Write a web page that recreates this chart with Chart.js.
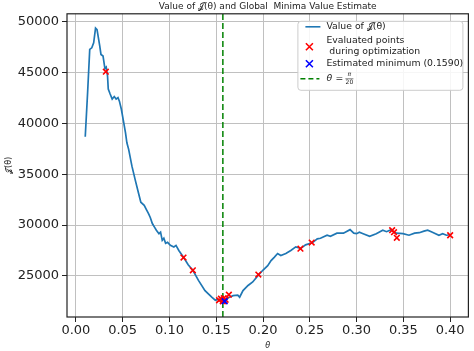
<!DOCTYPE html>
<html>
<head>
<meta charset="utf-8">
<script src="https://cdn.jsdelivr.net/npm/chart.js@4.4.1/dist/chart.umd.min.js"></script>
<style>
  body { margin: 0; background: #fff; }
  #wrap { width: 474px; height: 351px; }
</style>
</head>
<body>
<div id="wrap"><canvas id="chart" width="474" height="351"></canvas></div>
<script>
// J(theta) curve
const thetaVals = [
  0.010, 0.0125, 0.0148, 0.017, 0.019, 0.021, 0.0226, 0.0254, 0.0268, 0.029,
  0.031, 0.0324, 0.0338, 0.0346, 0.0366, 0.0388, 0.041, 0.043, 0.045, 0.0465,
  0.0486, 0.0507, 0.053, 0.0545, 0.0564, 0.0599, 0.0634, 0.0669, 0.0694, 0.073,
  0.0755, 0.0775, 0.0795, 0.0817, 0.084, 0.086, 0.0888, 0.0905, 0.0923, 0.094,
  0.0959, 0.098, 0.101, 0.1047, 0.107, 0.110, 0.1152, 0.120, 0.125, 0.131,
  0.138, 0.1452, 0.149, 0.152, 0.1557, 0.159, 0.163, 0.168, 0.173, 0.175,
  0.1786, 0.184, 0.189, 0.1952, 0.1998, 0.205, 0.2086, 0.2122, 0.2156, 0.219,
  0.2244, 0.2297, 0.235, 0.2403, 0.2455, 0.2526, 0.258, 0.2614, 0.2685, 0.272,
  0.279, 0.286, 0.293, 0.297, 0.300, 0.303, 0.307, 0.314, 0.321, 0.328,
  0.332, 0.3372, 0.339, 0.3425, 0.3496, 0.356, 0.362, 0.367, 0.372, 0.376,
  0.381, 0.388, 0.392, 0.396, 0.400
];
const jVals = [
  38700, 43000, 47300, 47450, 47950, 49400, 49250, 47700, 46800, 46650,
  45400, 45550, 44700, 43400, 42900, 42400, 42650, 42400, 42550, 42200,
  41400, 40300, 39100, 38100, 37450, 35800, 34450, 33150, 32250, 31950,
  31500, 31150, 30750, 30150, 29800, 29500, 29150, 29300, 28500, 28700,
  28200, 28300, 28000, 27850, 28000, 27500, 26800, 26100, 25550, 24550,
  23550, 22900, 22600, 22700, 22500, 22450, 22850, 23050, 23100, 22900,
  23550, 24050, 24400, 25100, 25550, 26000, 26500, 26850, 27200, 27000,
  27200, 27500, 27850, 27700, 28050, 28250, 28650, 28700, 29000, 28900,
  29200, 29200, 29550, 29200, 29150, 29300, 29150, 28900, 29150, 29500,
  29350, 29550, 29350, 29200, 29150, 29000, 29200, 29250, 29400, 29500,
  29300, 29000, 29150, 29000, 29050
];

// points evaluated by the optimizer
const evalTheta = [0.032, 0.115, 0.125, 0.153, 0.155, 0.157, 0.158, 0.160, 0.1635, 0.195, 0.240, 0.252, 0.338, 0.340, 0.343, 0.400];
const evalJ     = [45100, 26800, 25550, 22600, 22750, 22500, 22800, 22650, 23150, 25130, 27680, 28280, 29500, 29300, 28750, 29000];

const minTheta = [0.159];
const minJ = [22500];

const refTheta = Math.PI / 20;

const xTicks = [0.00, 0.05, 0.10, 0.15, 0.20, 0.25, 0.30, 0.35, 0.40];
const yTicks = [25000, 30000, 35000, 40000, 45000, 50000];
const xRange = [-0.0095, 0.4195];
const yRange = [20950, 50800];

const FONT = "'DejaVu Sans', sans-serif";
const J = '\u{1D4A5}';

function pairs(xs, ys) {
  return xs.map((x, i) => ({ x: x, y: ys[i] }));
}

function drawX(ctx, x, y, r, color) {
  ctx.save();
  ctx.strokeStyle = color;
  ctx.lineWidth = 1.6;
  ctx.beginPath();
  ctx.moveTo(x - r, y - r); ctx.lineTo(x + r, y + r);
  ctx.moveTo(x - r, y + r); ctx.lineTo(x + r, y - r);
  ctx.stroke();
  ctx.restore();
}

const framePlugin = {
  id: 'frame',
  afterDraw(chart) {
    const ctx = chart.ctx, a = chart.chartArea;
    ctx.save();
    ctx.strokeStyle = '#222';
    ctx.lineWidth = 1.2;
    ctx.strokeRect(a.left, a.top, a.right - a.left, a.bottom - a.top);
    ctx.restore();
  }
};

const legendPlugin = {
  id: 'boxLegend',
  afterDraw(chart) {
    const ctx = chart.ctx, a = chart.chartArea;
    const x0 = a.right - 171, y0 = a.top + 7, w = 165, h = 69;
    ctx.save();
    ctx.fillStyle = 'rgba(255,255,255,0.85)';
    ctx.strokeStyle = '#cccccc';
    ctx.lineWidth = 1;
    ctx.beginPath();
    ctx.roundRect(x0 + 0.5, y0 + 0.5, w, h, 3);
    ctx.fill();
    ctx.stroke();

    const tx = x0 + 29;
    ctx.font = '9.3px ' + FONT;
    ctx.fillStyle = '#222';
    ctx.textBaseline = 'middle';

    // line entry
    ctx.strokeStyle = '#1f77b4';
    ctx.lineWidth = 1.6;
    ctx.beginPath();
    ctx.moveTo(x0 + 8, y0 + 6); ctx.lineTo(x0 + 23, y0 + 6);
    ctx.stroke();
    ctx.fillText('Value of ' + J + '(\u03b8)', tx, y0 + 6);

    // evaluated points
    drawX(ctx, x0 + 12, y0 + 26, 3.5, '#ff0000');
    ctx.fillText('Evaluated points', tx, y0 + 20);
    ctx.fillText(' during optimization', tx, y0 + 31);

    // estimated minimum
    drawX(ctx, x0 + 12, y0 + 43, 3.5, '#0000ff');
    ctx.fillText('Estimated minimum (0.1590)', tx, y0 + 43);

    // reference line
    ctx.strokeStyle = 'green';
    ctx.setLineDash([5, 3]);
    ctx.beginPath();
    ctx.moveTo(x0 + 3, y0 + 58); ctx.lineTo(x0 + 22, y0 + 58);
    ctx.stroke();
    ctx.setLineDash([]);
    ctx.font = 'italic 9.3px ' + FONT;
    ctx.fillText('\u03b8', tx, y0 + 58);
    ctx.font = '9.3px ' + FONT;
    ctx.fillText('=', tx + 9, y0 + 58);
    ctx.font = 'italic 6px ' + FONT;
    ctx.textAlign = 'center';
    ctx.fillText('\u03c0', tx + 23, y0 + 54);
    ctx.font = '6px ' + FONT;
    ctx.fillText('20', tx + 23, y0 + 62);
    ctx.lineWidth = 0.6;
    ctx.strokeStyle = '#222';
    ctx.beginPath();
    ctx.moveTo(tx + 19, y0 + 58); ctx.lineTo(tx + 27, y0 + 58);
    ctx.stroke();
    ctx.restore();
  }
};

new Chart(document.getElementById('chart'), {
  type: 'scatter',
  data: {
    datasets: [
      {
        label: 'Value of J(theta)',
        data: pairs(thetaVals, jVals),
        showLine: true,
        borderColor: '#1f77b4',
        borderWidth: 1.7,
        pointRadius: 0,
        tension: 0,
        order: 3
      },
      {
        label: 'theta = pi/20',
        data: [{ x: refTheta, y: yRange[0] }, { x: refTheta, y: yRange[1] }],
        showLine: true,
        borderColor: 'green',
        borderWidth: 1.5,
        borderDash: [6, 3],
        pointRadius: 0,
        order: 2
      },
      {
        label: 'Evaluated points during optimization',
        data: pairs(evalTheta, evalJ),
        pointStyle: 'crossRot',
        pointRadius: 4,
        borderColor: '#ff0000',
        borderWidth: 1.6,
        order: 1
      },
      {
        label: 'Estimated minimum (0.1590)',
        data: pairs(minTheta, minJ),
        pointStyle: 'crossRot',
        pointRadius: 4,
        borderColor: '#0000ff',
        borderWidth: 1.6,
        order: 0
      }
    ]
  },
  options: {
    responsive: false,
    animation: false,
    layout: { padding: { left: 0, right: 1, top: 0, bottom: 0 } },
    plugins: {
      legend: { display: false },
      tooltip: { enabled: false },
      title: {
        display: true,
        fullSize: false,
        text: 'Value of ' + J + '(\u03b8) and Global  Minima Value Estimate',
        color: '#222',
        font: { family: FONT, size: 9, weight: 'normal', lineHeight: 1.2 },
        padding: { top: 1, bottom: 2 }
      }
    },
    scales: {
      x: {
        type: 'linear',
        min: xRange[0],
        max: xRange[1],
        afterBuildTicks: s => { s.ticks = xTicks.map(v => ({ value: v })); },
        afterFit: s => { s.height = 34; },
        grid: { color: '#c0c0c0', lineWidth: 1, tickLength: 5, tickColor: '#222' },
        border: { display: false },
        ticks: {
          color: '#222',
          font: { family: FONT, size: 13 },
          padding: 1,
          maxRotation: 0,
          callback: v => v.toFixed(2)
        },
        title: {
          display: true,
          text: '\u03b8',
          color: '#222',
          font: { family: FONT, size: 8, style: 'italic' },
          padding: { top: 0, bottom: 0 }
        }
      },
      y: {
        type: 'linear',
        min: yRange[0],
        max: yRange[1],
        afterBuildTicks: s => { s.ticks = yTicks.map(v => ({ value: v })); },
        afterFit: s => { s.width = 67; },
        grid: { color: '#c0c0c0', lineWidth: 1, tickLength: 5, tickColor: '#222' },
        border: { display: false },
        ticks: {
          color: '#222',
          font: { family: FONT, size: 13 },
          padding: 3,
          callback: v => String(v)
        },
        title: {
          display: true,
          text: J + '(\u03b8)',
          color: '#222',
          font: { family: FONT, size: 8 },
          padding: { top: 4, bottom: 0 }
        }
      }
    }
  },
  plugins: [framePlugin, legendPlugin]
});
</script>
</body>
</html>
